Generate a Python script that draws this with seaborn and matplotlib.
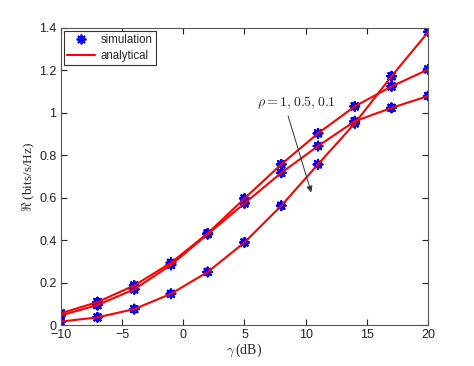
import numpy as np
import pandas as pd
import matplotlib
matplotlib.use("Agg")
import matplotlib.pyplot as plt
import seaborn as sns
from matplotlib.lines import Line2D

# ---- data ----
gamma_db = [-10, -7, -4, -1, 2, 5, 8, 11, 14, 17, 20]
rate_rho_1 = [0.055, 0.108, 0.186, 0.293, 0.432, 0.596, 0.757, 0.903, 1.030, 1.124, 1.204]
rate_rho_05 = [0.045, 0.094, 0.168, 0.283, 0.428, 0.573, 0.717, 0.843, 0.960, 1.023, 1.079]
rate_rho_01 = [0.016, 0.036, 0.075, 0.147, 0.250, 0.389, 0.562, 0.757, 0.950, 1.172, 1.381]
rho_labels = ["1", "0.5", "0.1"]
x_ticks = [-10, -5, 0, 5, 10, 15, 20]
y_ticks = [0, 0.2, 0.4, 0.6, 0.8, 1.0, 1.2, 1.4]
y_ticklabels = ["0", "0.2", "0.4", "0.6", "0.8", "1", "1.2", "1.4"]

df = pd.DataFrame({
    "gamma": gamma_db * 3,
    "rate": rate_rho_1 + rate_rho_05 + rate_rho_01,
    "rho": [rho_labels[0]] * len(gamma_db) + [rho_labels[1]] * len(gamma_db) + [rho_labels[2]] * len(gamma_db),
})

sns.set_style("ticks")
plt.rcParams["font.family"] = ["Liberation Sans", "DejaVu Sans"]
plt.rcParams["mathtext.fontset"] = "cm"

fig = plt.figure(figsize=(4.74, 3.66), dpi=100)
ax = fig.add_axes([0.128, 0.112, 0.7756, 0.812])

asterisk = (8, 2, 0)
sns.scatterplot(data=df, x="gamma", y="rate", hue="rho", palette=["#0000ff"] * 3,
                marker=asterisk, s=38, linewidth=1.7, edgecolor="#0000ff",
                legend=False, ax=ax, zorder=2)
sns.lineplot(data=df, x="gamma", y="rate", hue="rho", palette=["#ff0000"] * 3,
             linewidth=1.5, legend=False, ax=ax, zorder=3, sort=False)

ax.set_xlim(-10, 20)
ax.set_ylim(0, 1.4)
ax.set_xticks(x_ticks)
ax.set_xticklabels([str(t).replace("-", "\u2212") for t in x_ticks])
ax.set_yticks(y_ticks)
ax.set_yticklabels(y_ticklabels)
ax.tick_params(direction="in", length=4, width=0.8, labelsize=9, colors="#222222",
               top=True, right=True, pad=3)
for sp in ax.spines.values():
    sp.set_visible(True)
    sp.set_color("#555555")
    sp.set_linewidth(0.8)

ax.set_xlabel(r"$\gamma\,$(dB)", fontsize=10, labelpad=0, family=["Liberation Serif", "DejaVu Serif"])
ax.set_ylabel(r"$\Re$ (bits/s/Hz)", fontsize=9.5, labelpad=1.5, family=["Liberation Serif", "DejaVu Serif"])

ax.annotate(r"$\rho = 1, 0.5, 0.1$", xy=(10.45, 0.625), xytext=(6.0, 1.045),
            fontsize=10, va="center", ha="left",
            arrowprops=dict(arrowstyle="-|>", color="#333333", lw=0.7,
                            shrinkA=1, shrinkB=0, mutation_scale=9,
                            relpos=(0.38, 0.0)))

handles = [
    Line2D([], [], linestyle="none", marker=asterisk, markersize=7, markeredgewidth=1.3,
           color="#0000ff", markeredgecolor="#0000ff"),
    Line2D([], [], color="#ff0000", linewidth=1.5),
]
leg = ax.legend(handles, ["simulation", "analytical"], loc="upper left", fontsize=8.3,
                frameon=True, fancybox=False, edgecolor="#333333", framealpha=1,
                borderaxespad=0.25, handlelength=2.4, borderpad=0.3, labelspacing=0.3,
                handletextpad=0.5)
leg.get_frame().set_linewidth(0.8)

fig.savefig("out.png", dpi=100, facecolor="white")
